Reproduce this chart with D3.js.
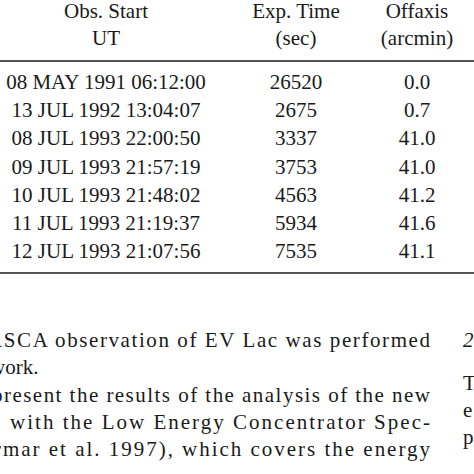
<!DOCTYPE html>
<html><head><meta charset="utf-8">
<script src="https://cdn.jsdelivr.net/npm/d3@7"></script>
<style>body{margin:0;background:#fff}svg{display:block}text{font-family:"Liberation Serif","DejaVu Serif",serif;fill:#1a1a1a}</style>
</head><body>
<script>
const headers1 = ["Obs. Start", "Exp. Time", "Offaxis"];
const headers2 = ["UT", "(sec)", "(arcmin)"];
const obsStart = ["08 MAY 1991 06:12:00","13 JUL 1992 13:04:07","08 JUL 1993 22:00:50","09 JUL 1993 21:57:19","10 JUL 1993 21:48:02","11 JUL 1993 21:19:37","12 JUL 1993 21:07:56"];
const expTime = [26520, 2675, 3337, 3753, 4563, 5934, 7535];
const offaxis = ["0.0","0.7","41.0","41.0","41.2","41.6","41.1"];
const paraLines = ["ASCA observation of EV Lac was performed","work.","present the results of the analysis of the new","with the Low Energy Concentrator Spec-","rmar et al. 1997), which covers the energy"];
const rightLines = ["2","T","e","p"];

const W=474,H=474;
const svg=d3.select("body").append("svg").attr("width",W).attr("height",H);
const colX=d3.scaleOrdinal().domain([0,1,2]).range([106,296,417]);
const rowY=d3.scaleLinear().domain([0,6]).range([89,258]);
const fs=21;
[headers1,headers2].forEach((h,j)=>{
  svg.selectAll(null).data(h).enter().append("text")
    .attr("x",(d,i)=>colX(i)).attr("y",j?45:18).attr("text-anchor","middle")
    .attr("font-size",fs).text(d=>d);
});
svg.append("line").attr("x1",0).attr("x2",W).attr("y1",61).attr("y2",61).attr("stroke","#555").attr("stroke-width",2);
svg.append("line").attr("x1",0).attr("x2",W).attr("y1",273).attr("y2",273).attr("stroke","#555").attr("stroke-width",2);
[obsStart,expTime,offaxis].forEach((col,c)=>{
  svg.selectAll(null).data(col).enter().append("text")
    .attr("x",colX(c)).attr("y",(d,i)=>rowY(i)).attr("text-anchor","middle")
    .attr("font-size",fs).text(d=>d);
});
const pY=d3.scaleLinear().domain([0,4]).range([347,456]);
const pX=[[-13,430],[-10,null],[-8,430],[10,430],[-6,430]];
paraLines.forEach((t,i)=>{
  const s=svg.append("text").attr("x",pX[i][0]).attr("y",pY(i)).attr("font-size",21).text(t);
  if(pX[i][1]!==null) s.attr("textLength",pX[i][1]-pX[i][0]).attr("lengthAdjust","spacing");
});
const rY=[347,390,417,444];
rightLines.forEach((t,i)=>{
  svg.append("text").attr("x",463).attr("y",rY[i]).attr("font-size",21)
    .attr("font-style",i===0?"italic":"normal").text(t);
});
</script>
</body></html>
